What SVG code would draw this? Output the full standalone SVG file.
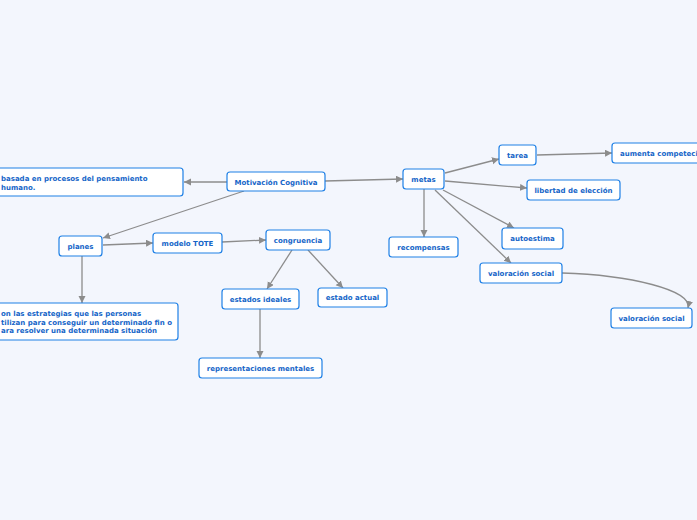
<svg xmlns="http://www.w3.org/2000/svg" width="697" height="520" viewBox="0 0 697 520">
<defs>
<marker id="arr" markerUnits="userSpaceOnUse" markerWidth="8" markerHeight="8" refX="7" refY="3.5" orient="auto">
<path d="M0,0 L7,3.5 L0,7 z" fill="#8c8c8c"/>
</marker>
<style>
.n rect{fill:#ffffff;stroke:#1f80e6;stroke-width:1.2}
.n text{font-family:"DejaVu Sans",Verdana,sans-serif;font-weight:bold;font-size:7px;fill:#1565c8;text-anchor:middle}
.n text.l{text-anchor:start}
.c path{fill:none;stroke:#8c8c8c;stroke-width:1.3;marker-end:url(#arr)}
</style>
</defs>
<rect width="697" height="520" fill="#f3f6fd"/>
<g class="c" id="connectors">
<path d="M227,182 L184,182"/>
<path d="M244,191 L103,238"/>
<path d="M325,181 L403,179"/>
<path d="M103,245 L153,243"/>
<path d="M222,242 L266,240"/>
<path d="M82,256 L82,303"/>
<path d="M292,250 L267,289"/>
<path d="M308,250 L343,288"/>
<path d="M260,309 L260,358"/>
<path d="M445,173 L499,159"/>
<path d="M537,155 L612,153"/>
<path d="M445,181 L527,188"/>
<path d="M424,189 L424,237"/>
<path d="M443,190 L514,228"/>
<path d="M435,190 L511,263"/>
<path d="M562,273 C630,275 692,290 688,308"/>
</g>
<g class="n" id="motivacion"><rect x="227" y="172" width="98" height="19" rx="3"/><text x="276" y="184.5">Motivación Cognitiva</text></g>
<g class="n" id="basada"><rect x="-10" y="168" width="193" height="28" rx="3"/><text class="l" x="1" y="180.5">basada en procesos del pensamiento</text><text class="l" x="1" y="189.5">humano.</text></g>
<g class="n" id="planes"><rect x="59" y="236" width="43" height="20" rx="3"/><text x="80.5" y="248.5">planes</text></g>
<g class="n" id="modelo"><rect x="153" y="233" width="69" height="20" rx="3"/><text x="187.5" y="245.5">modelo TOTE</text></g>
<g class="n" id="congruencia"><rect x="266" y="230" width="64" height="20" rx="3"/><text x="298" y="242.5">congruencia</text></g>
<g class="n" id="son"><rect x="-10" y="303" width="188" height="37" rx="3"/><text class="l" x="1" y="315.5">on las estrategias que las personas</text><text class="l" x="1" y="324.5">tilizan para conseguir un determinado fin o</text><text class="l" x="1" y="333">ara resolver una determinada situación</text></g>
<g class="n" id="ideales"><rect x="222" y="289" width="77" height="20" rx="3"/><text x="260.5" y="301.5">estados ideales</text></g>
<g class="n" id="actual"><rect x="318" y="288" width="69" height="19" rx="3"/><text x="352.5" y="300">estado actual</text></g>
<g class="n" id="representaciones"><rect x="199" y="358" width="123" height="20" rx="3"/><text x="260.5" y="370.5">representaciones mentales</text></g>
<g class="n" id="metas"><rect x="403" y="169" width="41" height="20" rx="3"/><text x="423.5" y="181.5">metas</text></g>
<g class="n" id="tarea"><rect x="499" y="145" width="37" height="20" rx="3"/><text x="517.5" y="157.5">tarea</text></g>
<g class="n" id="aumenta"><rect x="612" y="143" width="95" height="20" rx="3"/><text class="l" x="620" y="155.5">aumenta competecia</text></g>
<g class="n" id="libertad"><rect x="527" y="180" width="93" height="20" rx="3"/><text x="573.5" y="192.5">libertad de elección</text></g>
<g class="n" id="recompensas"><rect x="389" y="237" width="69" height="20" rx="3"/><text x="423.5" y="249.5">recompensas</text></g>
<g class="n" id="autoestima"><rect x="502" y="228" width="61" height="21" rx="3"/><text x="532.5" y="241">autoestima</text></g>
<g class="n" id="valoracion1"><rect x="480" y="263" width="82" height="20" rx="3"/><text x="521" y="275.5">valoración social</text></g>
<g class="n" id="valoracion2"><rect x="611" y="308" width="81" height="20" rx="3"/><text x="651.5" y="320.5">valoración social</text></g>
</svg>
